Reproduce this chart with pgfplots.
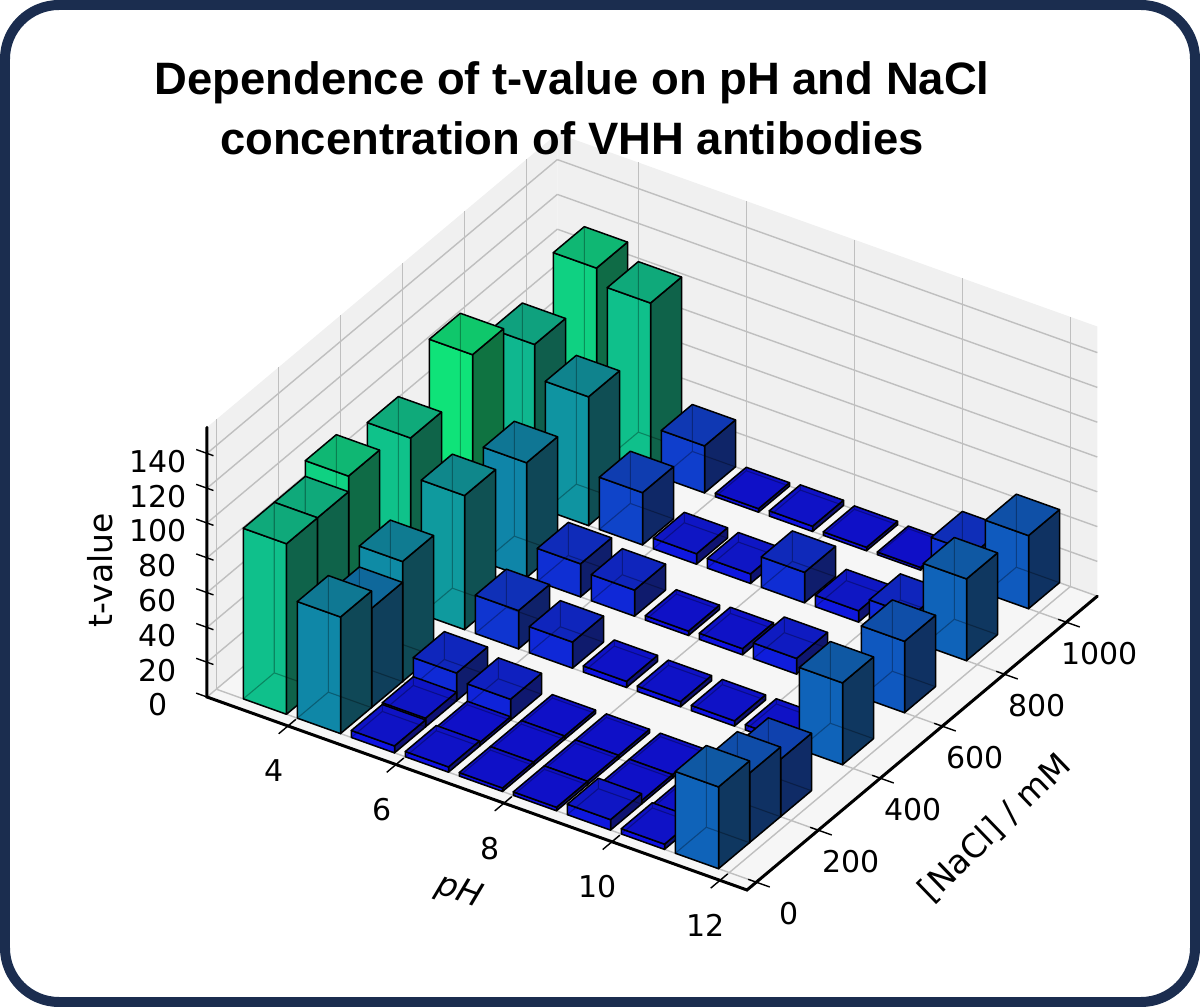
\documentclass[border=0pt]{standalone}
\usepackage{fontspec}
\usepackage{pgfplots}
\usepackage{pgfplotstable}
\pgfplotsset{compat=1.18}
\usetikzlibrary{calc}
\setmainfont{DejaVu Sans}
\newfontfamily\titlefont{Liberation Sans}
\definecolor{framec}{HTML}{1B2D4F}
\definecolor{wallc}{HTML}{F0F0F0}
\definecolor{floorc}{HTML}{F6F6F6}

% bars in drawing order: back row (NaCl 1000) first, pH ascending
\pgfplotstableread{
pH NaCl t
3 1000 107
4 1000 98
5 1000 27
6 1000 2
7 1000 3
8 1000 2
9 1000 1.5
10 1000 21
11 1000 42
3 800 93
4 800 74
5 800 30
6 800 6
7 800 5.5
8 800 17.5
9 800 6.5
10 800 15
11 800 47
3 600 117
4 600 66
5 600 19
6 600 15
7 600 2.5
8 600 3.5
9 600 9
10 600 3
11 600 41
3 400 99
4 400 77
5 400 22
6 400 15
7 400 3.5
8 400 3
9 400 3
10 400 3
11 400 47
3 200 107
4 200 69
5 200 16
6 200 12
7 200 2
8 200 2
9 200 2
10 200 2
11 200 33
3 100 98
4 100 57
5 100 5
6 100 2
7 100 2
8 100 2
9 100 2
10 100 2
11 100 40
3 0 98
4 0 67
5 0 4
6 0 3
7 0 2
8 0 2
9 0 6
10 0 3
11 0 47
}\bardata

\pgfplotsset{
  barface/.style={draw=black, line width=0.75pt, line join=round, mark=none},
  hidedge/.style={draw=black, draw opacity=0.3, line width=0.55pt, mark=none},
}
\tikzset{
  xtl/.style={font=\fontsize{15}{18}\selectfont, anchor=center, xshift=-7pt, yshift=-22.5pt},
  ytl/.style={font=\fontsize{15}{18}\selectfont, anchor=center, xshift=16.5pt, yshift=-15.5pt},
  ztl/.style={font=\fontsize{15}{18}\selectfont, anchor=center, xshift=-24.5pt, yshift=-4pt},
}

\newcommand\drawbar[3]{%
  \pgfmathsetmacro\xa{#1}%
  \pgfmathsetmacro\xb{#1+0.8}%
  \pgfmathsetmacro\ya{#2}%
  \pgfmathsetmacro\yb{#2+100}%
  \pgfmathsetmacro\hh{#3}%
  \pgfmathsetmacro\vv{max(0,min(1,(#3-1.5)/115.5))}%
  \pgfmathsetmacro\gF{0.06+0.830*\vv}%
  \pgfmathsetmacro\bF{0.06+0.830*(1-0.5*\vv)}%
  \pgfmathsetmacro\gT{0.06+0.721*\vv}%
  \pgfmathsetmacro\bT{0.06+0.721*(1-0.5*\vv)}%
  \pgfmathsetmacro\gR{0.06+0.392*\vv}%
  \pgfmathsetmacro\bR{0.06+0.392*(1-0.5*\vv)}%
  \edef\barcmd{%
    \noexpand\addplot3[barface,fill={rgb,1:red,0.06;green,\gR;blue,\bR}] coordinates {(\xb,\ya,0) (\xb,\yb,0) (\xb,\yb,\hh) (\xb,\ya,\hh)} -- cycle;%
    \noexpand\addplot3[barface,fill={rgb,1:red,0.06;green,\gF;blue,\bF}] coordinates {(\xa,\ya,0) (\xb,\ya,0) (\xb,\ya,\hh) (\xa,\ya,\hh)} -- cycle;%
    \noexpand\addplot3[barface,fill={rgb,1:red,0.06;green,\gT;blue,\bT}] coordinates {(\xa,\ya,\hh) (\xb,\ya,\hh) (\xb,\yb,\hh) (\xa,\yb,\hh)} -- cycle;%
    \noexpand\addplot3[hidedge] coordinates {(\xa,\ya,0) (\xa,\yb,0) (\xa,\yb,\hh) (\xa,\yb,0) (\xb,\yb,0)};%
  }%
  \barcmd
}

\begin{document}
\begin{tikzpicture}
\begin{axis}[
  x={(27pt,-9.65pt)}, y={(0.155pt,0.13pt)}, z={(0pt,0.87pt)},
  xmin=2.5, xmax=12.5, ymin=-30, ymax=1100, zmin=0, zmax=155,
  xtick={4,6,8,10,12}, ytick={0,200,400,600,800,1000}, ztick={0,20,40,60,80,100,120,140},
  xticklabels={}, yticklabels={}, zticklabels={},
  tick style={draw=none},
  grid=major, grid style={black!25, line width=0.7pt},
  axis line style={draw=none},
  clip=false,
  set layers,
]
% panes
\addplot3[on layer=axis background, fill=wallc, draw=none, mark=none] coordinates {(2.5,-30,0) (2.5,1100,0) (2.5,1100,155) (2.5,-30,155)} -- cycle;
\addplot3[on layer=axis background, fill=wallc, draw=none, mark=none] coordinates {(2.5,1100,0) (12.5,1100,0) (12.5,1100,155) (2.5,1100,155)} -- cycle;
\addplot3[on layer=axis background, fill=floorc, draw=none, mark=none] coordinates {(2.5,-30,0) (12.5,-30,0) (12.5,1100,0) (2.5,1100,0)} -- cycle;

\coordinate (A) at (axis cs:2.5,-30,0);

% axis lines
\draw[black, line width=1.5pt, line cap=round] (axis cs:2.5,-30,155) -- (axis cs:2.5,-30,0) -- (axis cs:12.5,-30,0) -- (axis cs:12.5,1100,0);
% tick marks
\pgfplotsinvokeforeach{4,6,8,10,12}{\draw[black, line width=0.7pt] (axis cs:#1,-60,0) -- (axis cs:#1,-5,0);}
\pgfplotsinvokeforeach{0,200,400,600,800,1000}{\draw[black, line width=0.7pt] (axis cs:12.35,#1,0) -- (axis cs:12.75,#1,0);}
\pgfplotsinvokeforeach{0,20,40,60,80,100,120,140}{\draw[black, line width=0.7pt] (axis cs:2.3,-30,#1) -- (axis cs:2.62,-30,#1);}

% bars
\pgfplotstablegetrowsof{\bardata}
\pgfmathtruncatemacro\nlast{\pgfplotsretval-1}
\pgfplotsforeachungrouped \r in {0,...,\nlast}{%
  \pgfplotstablegetelem{\r}{pH}\of\bardata\let\bx\pgfplotsretval
  \pgfplotstablegetelem{\r}{NaCl}\of\bardata\let\by\pgfplotsretval
  \pgfplotstablegetelem{\r}{t}\of\bardata\let\bt\pgfplotsretval
  \drawbar{\bx}{\by}{\bt}%
}

% tick labels
\node[xtl] at (axis cs:4,-30,0) {4};
\node[xtl] at (axis cs:6,-30,0) {6};
\node[xtl] at (axis cs:8,-30,0) {8};
\node[xtl] at (axis cs:10,-30,0) {10};
\node[xtl] at (axis cs:12,-30,0) {12};
\node[ytl] at (axis cs:12.5,0,0) {0};
\node[ytl] at (axis cs:12.5,200,0) {200};
\node[ytl] at (axis cs:12.5,400,0) {400};
\node[ytl] at (axis cs:12.5,600,0) {600};
\node[ytl] at (axis cs:12.5,800,0) {800};
\node[ytl] at (axis cs:12.5,1000,0) {1000};
\node[ztl] at (axis cs:2.5,-30,0) {0};
\node[ztl] at (axis cs:2.5,-30,20) {20};
\node[ztl] at (axis cs:2.5,-30,40) {40};
\node[ztl] at (axis cs:2.5,-30,60) {60};
\node[ztl] at (axis cs:2.5,-30,80) {80};
\node[ztl] at (axis cs:2.5,-30,100) {100};
\node[ztl] at (axis cs:2.5,-30,120) {120};
\node[ztl] at (axis cs:2.5,-30,140) {140};
\end{axis}

% axis titles
\node[font=\fontsize{16.5}{20}\selectfont, rotate=90, anchor=center] at ($(A)+(-53.5pt,63.5pt)$) {t-value};
\node[font=\fontsize{16.5}{20}\selectfont\itshape, rotate=-19.7, anchor=center] at ($(A)+(126pt,-97.5pt)$) {pH};
\node[font=\fontsize{16.5}{20}\selectfont, rotate=44, anchor=center] at ($(A)+(394pt,-65.5pt)$) {[NaCl] / mM};

% title
\node[font=\titlefont\bfseries\fontsize{22.7}{30}\selectfont, anchor=base] at ($(A)+(182.5pt,301pt)$) {Dependence of t-value on pH and NaCl};
\node[font=\titlefont\bfseries\fontsize{22.7}{30}\selectfont, anchor=base] at ($(A)+(182.5pt,271pt)$) {concentration of VHH antibodies};

% frame
\draw[framec, line width=5pt, rounded corners=27pt] ($(A)+(-101pt,-152.5pt)$) rectangle ($(A)+(494pt,346pt)$);

\pgfresetboundingbox
\path ($(A)+(-103.5pt,-155pt)$) rectangle ($(A)+(496.5pt,348.5pt)$);
\end{tikzpicture}
\end{document}
